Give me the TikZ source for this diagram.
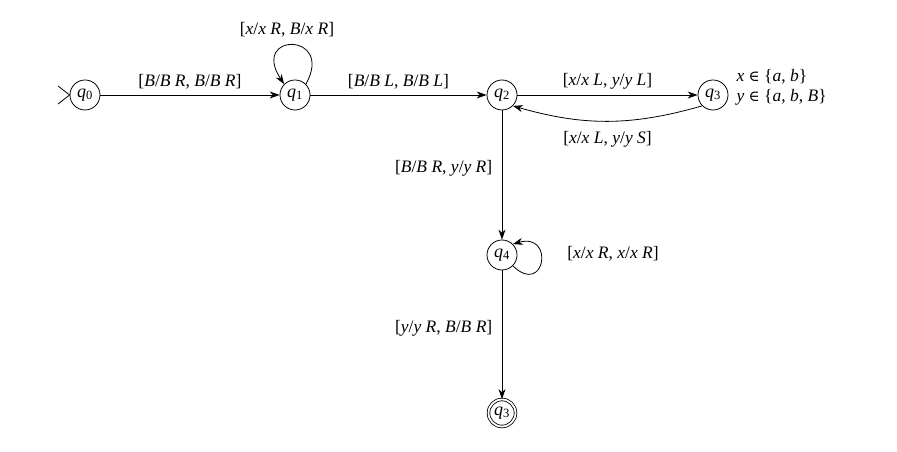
\documentclass[tikz,border=0pt]{standalone}
\usepackage{fontspec}
\setmainfont{Liberation Serif}
\newfontfamily\djfont{DejaVu Serif}
\usetikzlibrary{arrows.meta}
\begin{document}
\begin{tikzpicture}[x=1pt,y=1pt,
  st/.style={circle,draw,thick,minimum size=30pt,inner sep=0pt,font=\fontsize{18}{20}\selectfont},
  acc/.style={st,double,double distance=1.8pt,minimum size=27pt},
  tr/.style={draw,thick,-{Stealth[length=10pt,width=7pt]}},
  lb/.style={font=\fontsize{17.5}{20}\selectfont}]
\useasboundingbox (0,0) rectangle (897,452);
\newcommand{\qs}[1]{\textit{q}\textsubscript{#1}}
\newcommand{\elem}{{\djfont\fontsize{15}{18}\selectfont ∈}}
\node[st] (q0) at (85,357) {\qs0};
\node[st] (q1) at (295,357) {\qs1};
\node[st] (q2) at (502,357) {\qs2};
\node[st] (q3) at (713,357) {\qs3};
\node[st] (q4) at (502,197) {\qs4};
\node[acc] (qf) at (502,39) {\qs3};
\coordinate (s1) at (58,366);
\coordinate (s2) at (58,348);
\draw[thick] (s1) -- (q0.west) -- (s2);
\draw[tr] (q0) -- node[lb,above=2pt]{[\textit{B}/\textit{B R}, \textit{B}/\textit{B R}]} (q1);
\draw[tr] (q1) -- node[lb,above=2pt]{[\textit{B}/\textit{B L}, \textit{B}/\textit{B L}]} (q2);
\draw[tr] (q2) -- node[lb,above=2pt]{[\textit{x}/\textit{x L}, \textit{y}/\textit{y L}]} (q3);
\draw[tr] (q3.south west) to[bend left=16] node[lb,below=6pt]{[\textit{x}/\textit{x L}, \textit{y}/\textit{y S}]} (q2.south east);
\draw[tr] (q1.north east) .. controls (335,420) and (250,420) .. (q1.north west);
\node[lb] (l1) at (287,422) {[\textit{x}/\textit{x R}, \textit{B}/\textit{x R}]};
\draw[tr] (q2) -- node[lb,left=6pt,pos=0.45]{[\textit{B}/\textit{B R}, \textit{y}/\textit{y R}]} (q4);
\draw[tr] (q4.south east) .. controls (545,155) and (555,220) .. (q4.north east);
\node[lb] (l4) at (613,198) {[\textit{x}/\textit{x R}, \textit{x}/\textit{x R}]};
\draw[tr] (q4) -- node[lb,left=6pt,pos=0.45]{[\textit{y}/\textit{y R}, \textit{B}/\textit{B R}]} (qf);
\node[lb,anchor=west] (c1) at (733,375) {\textit{x} \elem\ \{\textit{a}, \textit{b}\}};
\node[lb,anchor=west] (c2) at (733,355) {\textit{y} \elem\ \{\textit{a}, \textit{b}, \textit{B}\}};
\end{tikzpicture}
\end{document}
